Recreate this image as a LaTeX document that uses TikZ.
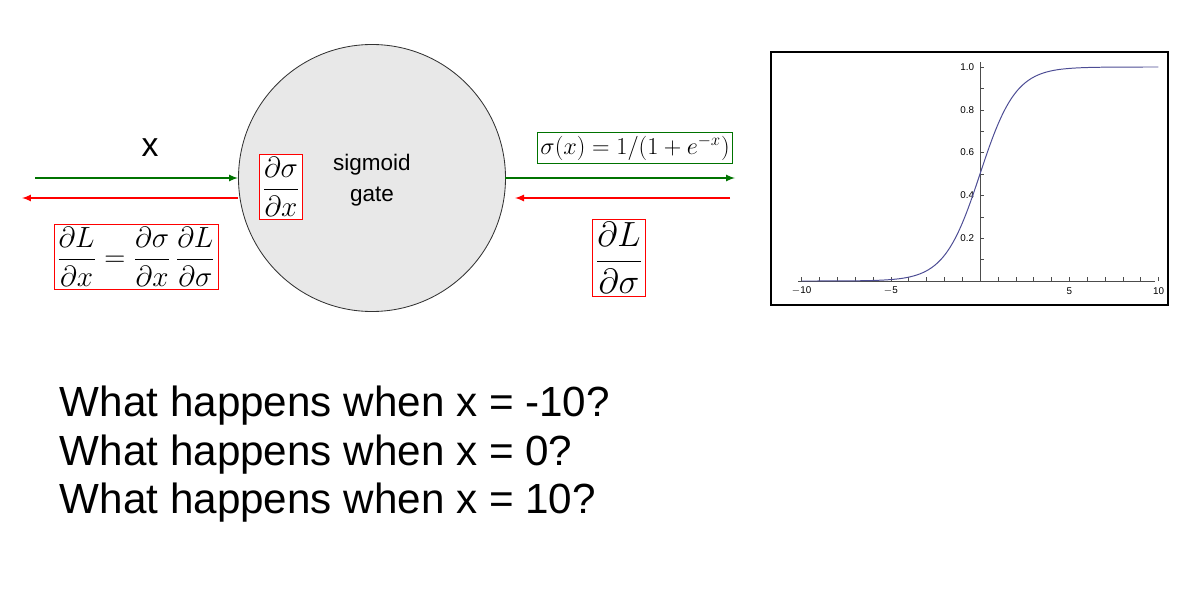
\documentclass[tikz,border=0pt]{standalone}
\usepackage{fontspec}
\setmainfont{Liberation Sans}
\usepackage{amsmath}
\begin{document}
\begin{tikzpicture}[x=0.025cm,y=-0.025cm,
  garrow/.style={draw=green!45!black,line width=1.2pt,-latex},
  rarrow/.style={draw=red,line width=1.2pt,-latex},
  rbox/.style={draw=red,inner sep=2pt,line width=0.6pt},
  gbox/.style={draw=green!45!black,inner sep=2pt,line width=0.6pt},
  tick/.style={font=\fontsize{7}{8}\selectfont\rmfamily}]
\useasboundingbox (0,0) rectangle (1178,592);
\node[circle,draw=black!80,fill=black!9,minimum size=267*0.025cm,inner sep=0,line width=0.6pt] (g) at (372,178) {};
\node[align=center,font=\fontsize{16}{22}\selectfont] (gl) at (372,180) {sigmoid\\gate};
\coordinate (xin) at (35,178);
\coordinate (xback) at (22,198);
\coordinate (gin) at (238,178);
\coordinate (ginb) at (238,198);
\coordinate (gout) at (505,178);
\coordinate (outend) at (735,178);
\coordinate (rstart) at (730,198);
\coordinate (rend) at (515,198);
\draw[garrow] (xin) -- (gin);
\draw[rarrow] (ginb) -- (xback);
\draw[garrow] (gout) -- (outend);
\draw[rarrow] (rstart) -- (rend);
\node[font=\fontsize{24}{28}\selectfont] (xl) at (150,148) {x};
\node[rbox,font=\fontsize{22}{26}\selectfont] (lb) at (136,257) {$\dfrac{\partial L}{\partial x}=\dfrac{\partial \sigma}{\partial x}\,\dfrac{\partial L}{\partial \sigma}$};
\node[rbox,fill=white,font=\fontsize{22}{26}\selectfont] (lg) at (281,187) {$\dfrac{\partial \sigma}{\partial x}$};
\node[gbox,font=\fontsize{18}{21}\selectfont] (sf) at (635,148) {$\sigma(x)=1/(1+e^{-x})$};
\node[rbox,font=\fontsize{23}{27}\selectfont] (rl) at (619,258) {$\dfrac{\partial L}{\partial \sigma}$};
% plot
\node[draw=black,line width=0.8pt,minimum width=397*0.025cm,minimum height=253*0.025cm,inner sep=0] (pf) at (969.5,178.5) {};
\coordinate (ax0) at (798,281);
\coordinate (ax1) at (1155,281);
\coordinate (ay0) at (980,281);
\coordinate (ay1) at (980,62);
\draw[black!70,line width=0.5pt] (ax0) -- (ax1);
\draw[black!70,line width=0.5pt] (ay0) -- (ay1);
\foreach \t in {-10,...,10}{\draw[black!70,line width=0.3pt] ({980+17.85*\t},281) -- ({980+17.85*\t},277);}
\foreach \v in {0.1,0.2,...,1.0}{\draw[black!70,line width=0.3pt] (980,{281-214*\v}) -- (984,{281-214*\v});}
\foreach \t/\l in {-10/{$-$10},-5/{$-$5},5/5,10/10}{\node[tick] at ({980+17.85*\t},291) {\l};}
\foreach \v/\l in {0.2/0.2,0.4/0.4,0.6/0.6,0.8/0.8,1.0/1.0}{\node[tick,anchor=east] at (979,{281-214*\v}) {\l};}
\draw[blue!40!black!70,line width=0.7pt,domain=-10:0,samples=60,smooth] plot ({980+17.85*\x},{281-214*exp(\x)/(1+exp(\x))});
\draw[blue!40!black!70,line width=0.7pt,domain=0:10,samples=60,smooth] plot ({980+17.85*\x},{281-214/(1+exp(-\x))});
% questions
\node[anchor=north west,align=left,font=\fontsize{30}{34.5}\selectfont] (q) at (55,381) {What happens when x = -10?\\What happens when x = 0?\\What happens when x = 10?};
\end{tikzpicture}
\end{document}
